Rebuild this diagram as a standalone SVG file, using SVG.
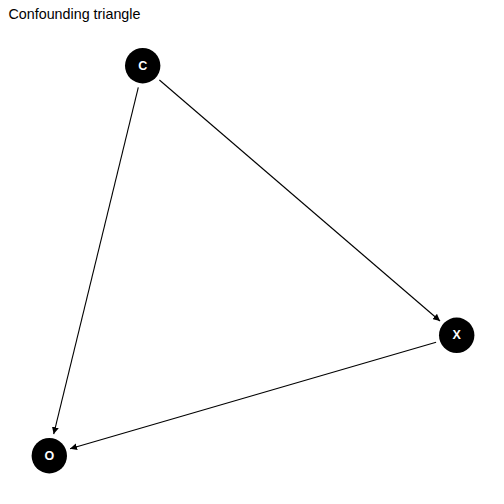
<svg xmlns="http://www.w3.org/2000/svg" width="504" height="504" viewBox="0 0 504 504">
<style>
.node circle{fill:#000}
.node text{fill:#fff;font-family:"Liberation Sans",Arial,sans-serif;font-weight:bold;font-size:12.5px;text-anchor:middle;dominant-baseline:central}
.edge{stroke:#000;stroke-width:1.1;fill:none;marker-end:url(#ah)}
.title{font-family:"Liberation Sans",Arial,sans-serif;font-size:14.3px;fill:#000}
</style>
<defs>
<marker id="ah" viewBox="0 0 10 10" refX="10" refY="5" markerWidth="7" markerHeight="7" markerUnits="userSpaceOnUse" orient="auto">
<path d="M0,0 L10,5 L0,10 Z" fill="#000"/>
</marker>
</defs>
<rect width="504" height="504" fill="#fff"/>
<text class="title" x="8.5" y="18.5">Confounding triangle</text>
<g id="connectors">
<line class="edge" x1="159.4" y1="80" x2="440" y2="321"/>
<line class="edge" x1="138.3" y1="87.3" x2="53.7" y2="434.1"/>
<line class="edge" x1="436.1" y1="342.3" x2="70.0" y2="448.7"/>
</g>
<g id="node-C" class="node"><circle cx="142.7" cy="65.7" r="17.7"/><text x="142.7" y="65.7">C</text></g>
<g id="node-X" class="node"><circle cx="456.7" cy="335.3" r="17.7"/><text x="456.7" y="335.3">X</text></g>
<g id="node-O" class="node"><circle cx="49.3" cy="455.7" r="17.7"/><text x="49.3" y="455.7">O</text></g>
</svg>
